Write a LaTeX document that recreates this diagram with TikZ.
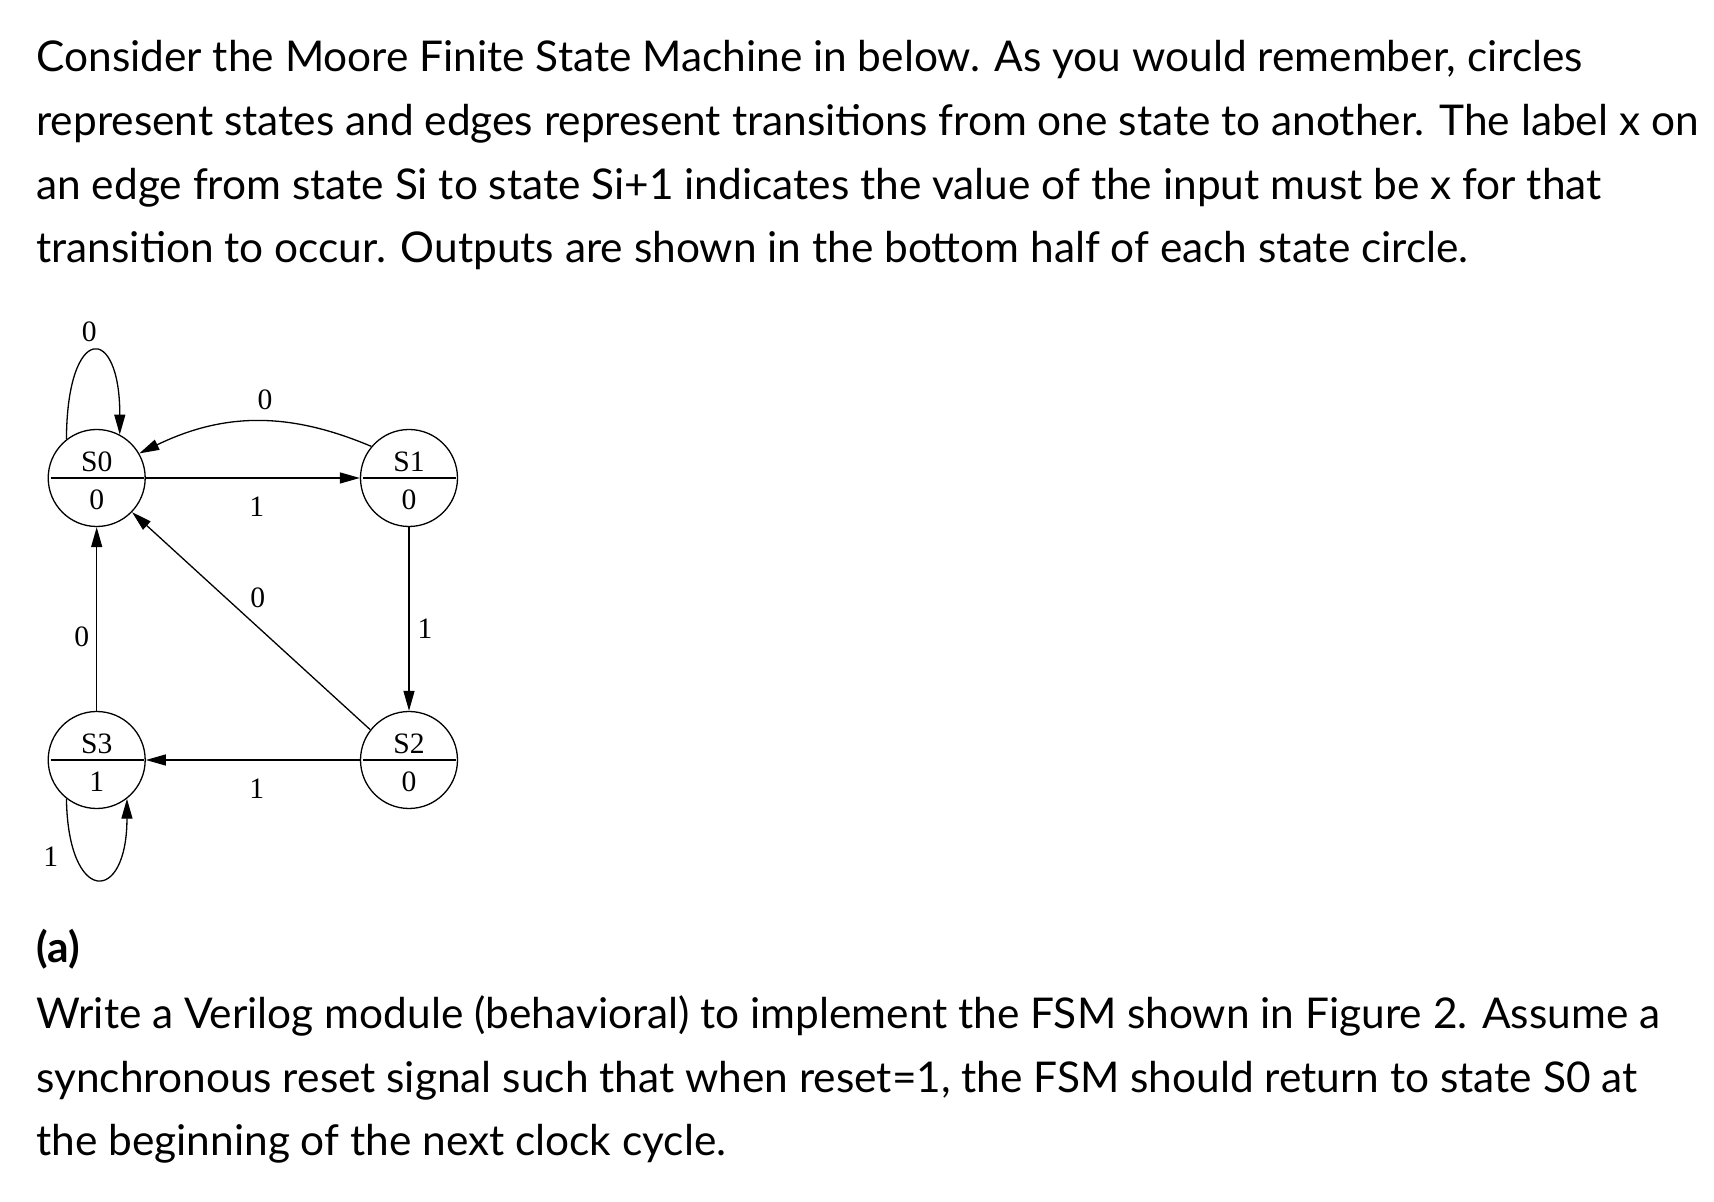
\documentclass[tikz,border=0pt]{standalone}
\usepackage{fontspec}
\setmainfont{Lato}
\newfontfamily\timesf{Liberation Serif}
\usetikzlibrary{arrows.meta}
\begin{document}
\begin{tikzpicture}[x=0.5pt,y=-0.5pt,
  state/.style={circle,draw,line width=0.65pt,minimum size=48.5pt,inner sep=0pt},
  edge/.style={line width=0.65pt,-{Triangle[length=10pt,width=5.5pt]}},
  lbl/.style={font=\timesf\fontsize{14.8}{16}\selectfont,inner sep=0pt},
  para/.style={anchor=base west,inner sep=0pt,font=\fontsize{21.2}{26}\selectfont}]
\useasboundingbox[fill=white] (0,0) rectangle (1714,1202);

% paragraph text
\node[para] (t1) at (36,71.7) {Consider the Moore Finite State Machine in below. As you would remember, circles};
\node[para] (t2) at (36,135.5) {represent states and edges represent transitions from one state to another. The label x on};
\node[para] (t3) at (36,199.3) {an edge from state Si to state Si+1 indicates the value of the input must be x for that};
\node[para] (t4) at (36,263) {transition to occur. Outputs are shown in the bottom half of each state circle.};
\node[para,font=\fontsize{21.2}{26}\selectfont\bfseries] (ta) at (36,963) {(a)};
\node[para] (t5) at (36,1028) {Write a Verilog module (behavioral) to implement the FSM shown in Figure 2. Assume a};
\node[para] (t6) at (36,1092) {synchronous reset signal such that when reset=1, the FSM should return to state S0 at};
\node[para] (t7) at (36,1155) {the beginning of the next clock cycle.};

% states
\node[state] (S0) at (96.7,478) {};
\node[state] (S1) at (409,478) {};
\node[state] (S2) at (409,760) {};
\node[state] (S3) at (96.7,760) {};
\foreach \s/\n/\o in {S0/S0/0,S1/S1/0,S2/S2/0,S3/S3/1}{
  \draw[line width=0.65pt] ([xshift=1.5pt]\s.west) -- ([xshift=-1pt]\s.east);
  \node[lbl,anchor=base] (\s n) at ([yshift=3.15pt]\s.center) {\n};
  \node[lbl,anchor=base] (\s o) at ([yshift=-15.65pt]\s.center) {\o};
}

% edges
\draw[edge] (S0.128) .. controls (67,323) and (120,323) .. (S0.62);
\node[lbl] (l00) at (89.3,331.7) {0};

\draw[edge] (S1.140) .. controls (290,412) and (225,412) .. (S0.30);
\node[lbl] (l10) at (265,400) {0};

\draw[edge] (S0.east) -- (S1.west);
\node[lbl] (l01) at (256.7,506.7) {1};

\draw[edge] (S1.south) -- (S2.north);
\node[lbl] (l12) at (425,628.3) {1};

\draw[edge] (S2.west) -- (S3.east);
\node[lbl] (l23) at (256.7,788.3) {1};

\draw[edge] (S2.142) -- (S0.-44);
\node[lbl] (l20) at (257.7,598.3) {0};

\draw[edge] (S3.north) -- (S0.south);
\node[lbl] (l30) at (81.7,636.7) {0};

\draw[edge] (S3.-128) .. controls (68,905) and (127,905) .. (S3.-52);
\node[lbl] (l33) at (50.7,856.7) {1};
\end{tikzpicture}
\end{document}
